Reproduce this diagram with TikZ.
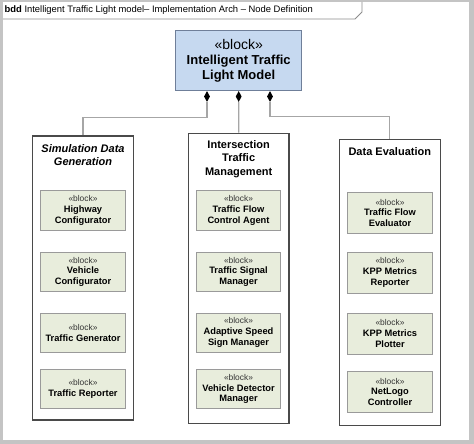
\documentclass[tikz,border=0pt]{standalone}
\usepackage{fontspec}
\setmainfont{Liberation Sans}
\usetikzlibrary{shapes.geometric}
\definecolor{frameg}{HTML}{C4C4C4}
\definecolor{tabg}{HTML}{8C8C8C}
\definecolor{mainfill}{HTML}{C6D9F0}
\definecolor{mainline}{HTML}{6F7F99}
\definecolor{blkfill}{HTML}{E8EDDC}
\definecolor{blkline}{HTML}{9A9A9A}
\definecolor{pkgline}{HTML}{4A4A4A}
\definecolor{connline}{HTML}{A6A6A6}
\tikzset{
  mainblk/.style={draw=mainline, line width=1pt, fill=mainfill, minimum width=126pt, minimum height=60pt, inner sep=0pt, align=center,
    font=\fontsize{13}{15}\selectfont\bfseries},
  pkg/.style={draw=pkgline, line width=1.2pt, inner sep=0pt},
  pkgtitle/.style={anchor=north, inner sep=0pt, align=center, font=\fontsize{11}{13.4}\selectfont\bfseries},
  blk/.style={draw=blkline, line width=0.9pt, fill=blkfill, minimum width=84.5pt, inner sep=0pt, align=center,
    font=\fontsize{9.3}{10.8}\selectfont\bfseries},
  blkL/.style={blk, minimum height=39.5pt},
  blkR/.style={blk, minimum height=41pt},
  diam/.style={diamond, fill=black, draw=none, minimum width=6pt, minimum height=11pt, inner sep=0pt},
  conn/.style={draw=connline, line width=1.2pt},
}
\newcommand{\stereo}{{\mdseries\fontsize{8.4}{10.8}\selectfont\color[HTML]{333333}«block»}}
\begin{document}
\begin{tikzpicture}[x=1pt,y=-1pt]
\fill[frameg] (0,0) rectangle (474,444);
\fill[white] (3,2) rectangle (469,440);
\useasboundingbox (0,0) rectangle (474,444);
% title tab
\draw[tabg, line width=0.8pt] (3,19) -- (355,19) -- (362,12) -- (362,2);
\node[anchor=west, inner sep=0pt, font=\fontsize{9.4}{11}\selectfont] (title) at (4.5,10.5)
  {\textbf{bdd} Intelligent Traffic Light model– Implementation Arch – Node Definition};
% main block
\node[mainblk] (main) at (238.7,60.7) {{\mdseries\fontsize{14}{15}\selectfont «block»}\\Intelligent Traffic\\Light Model};
% diamonds
\node[diam] (dL) at (207,96.5) {};
\node[diam] (dM) at (238.7,96.5) {};
\node[diam] (dR) at (270,96.5) {};
% packages
\node[pkg, minimum width=101.4pt, minimum height=284pt] (pL) at (83,278) {};
\node[pkg, minimum width=100.7pt, minimum height=290pt] (pM) at (238.65,278.3) {};
\node[pkg, minimum width=101pt, minimum height=286pt] (pR) at (389.8,282.3) {};
\node[pkgtitle] (tL) at (83,144.3) {\textit{Simulation Data}\\\textit{Generation}};
\node[pkgtitle] (tM) at (238.65,140.3) {Intersection\\Traffic\\Management};
\node[pkgtitle] (tR) at (389.8,147.7) {Data Evaluation};
% connectors
\coordinate (jL) at (207,117.3);
\coordinate (jR) at (270,116.5);
\draw[conn] (dL.south) -- (jL) -| (pL.north);
\draw[conn] (dM.south) -- (pM.north);
\draw[conn] (dR.south) -- (jR) -| (pR.north);
% left blocks
\node[blkL] (l1) at (83,210.3) {\stereo\\Highway\\Configurator};
\node[blkL] (l2) at (83,271.9) {\stereo\\Vehicle\\Configurator};
\node[blkL] (l3) at (83,332.7) {\stereo\\Traffic Generator};
\node[blkL] (l4) at (83,389) {\stereo\\Traffic Reporter};
% middle blocks
\node[blkL] (m1) at (238.5,210.3) {\stereo\\Traffic Flow\\Control Agent};
\node[blkL] (m2) at (238.5,271.9) {\stereo\\Traffic Signal\\Manager};
\node[blkL] (m3) at (238.5,332.7) {\stereo\\Adaptive Speed\\Sign Manager};
\node[blkL] (m4) at (238.5,389) {\stereo\\Vehicle Detector\\Manager};
% right blocks
\node[blkR] (r1) at (390,213) {\stereo\\Traffic Flow\\Evaluator};
\node[blkR] (r2) at (390,272.5) {\stereo\\KPP Metrics\\Reporter};
\node[blkR] (r3) at (390,333.5) {\stereo\\KPP Metrics\\Plotter};
\node[blkR] (r4) at (390,391.9) {\stereo\\NetLogo\\Controller};
\end{tikzpicture}
\end{document}
